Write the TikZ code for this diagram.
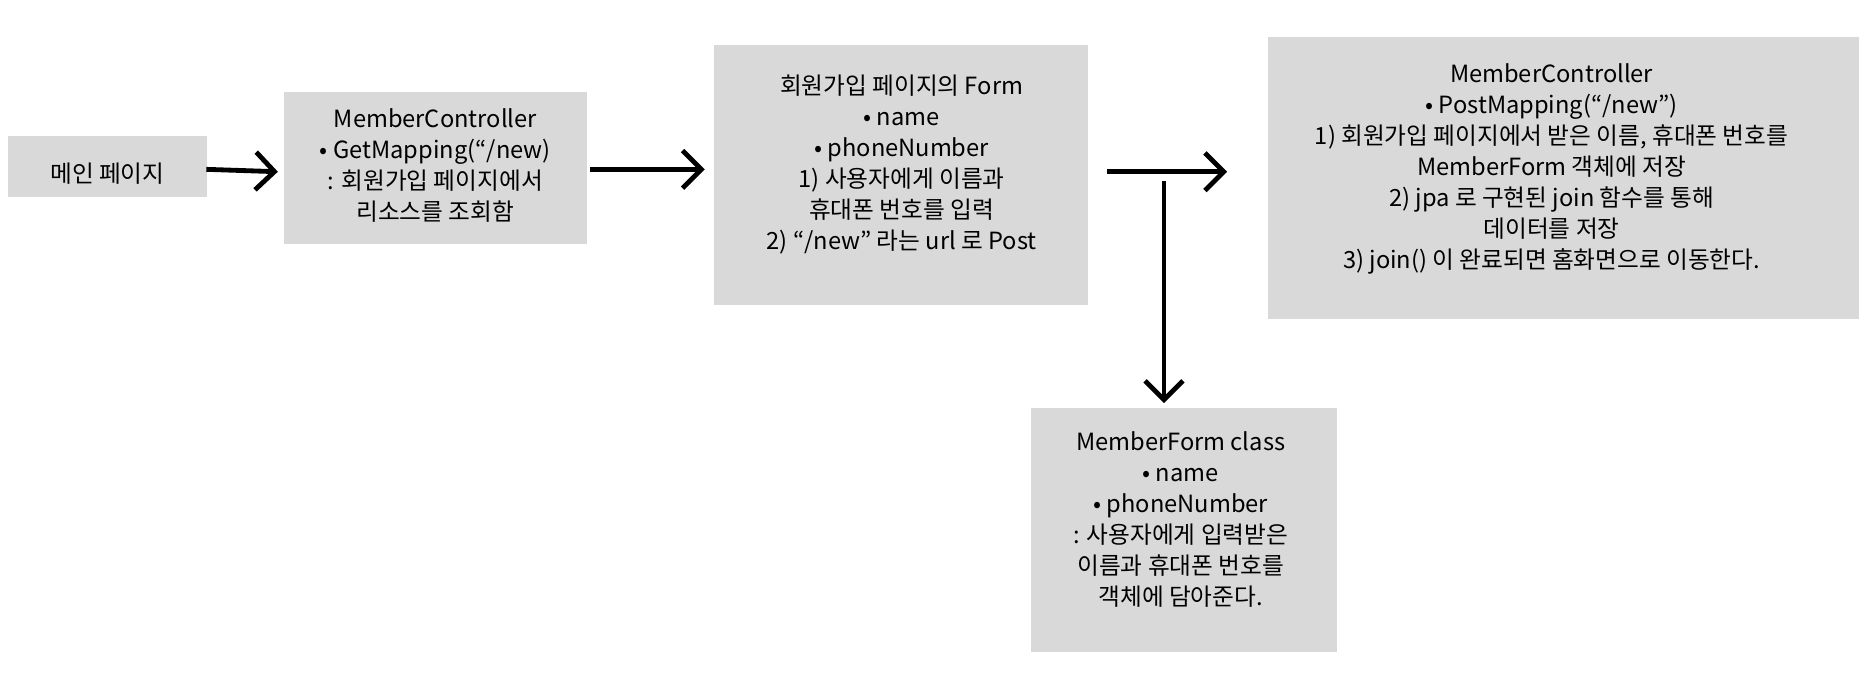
\documentclass[tikz,border=0pt]{standalone}
\usepackage{fontspec}
\setmainfont{Noto Sans CJK KR}
\usetikzlibrary{arrows.meta}
\begin{document}
\begin{tikzpicture}[x=0.02cm,y=-0.02cm,
  box/.style={fill=black!15,draw=none,anchor=north west,inner sep=0},
  txt/.style={align=center,font=\fontsize{11.3}{14.8}\selectfont},
  arr/.style={line width=2.3pt,-{Straight Barb[length=9pt,width=18pt,line width=2.3pt]}}]
\useasboundingbox (0,0) rectangle (1568,578.5);
\node[box,minimum width=167*0.02cm,minimum height=51*0.02cm] (b1) at (6,114) {};
\node[box,minimum width=254*0.02cm,minimum height=127*0.02cm] (b2) at (238,77) {};
\node[box,minimum width=314*0.02cm,minimum height=218*0.02cm] (b3) at (598,37) {};
\node[box,minimum width=495*0.02cm,minimum height=236*0.02cm] (b4) at (1063,31) {};
\node[box,minimum width=257*0.02cm,minimum height=204*0.02cm] (b5) at (864,342) {};
\node[txt] (t1) at (90,146) {메인 페이지};
\node[txt] (t2) at (365,139) {MemberController\\ • GetMapping(“/new)\\: 회원가입 페이지에서\\리소스를 조회함};
\node[txt] (t3) at (756,138) {회원가입 페이지의 Form\\ • name\\ • phoneNumber\\1) 사용자에게 이름과\\휴대폰 번호를 입력\\2) “/new” 라는 url 로 Post};
\node[txt] (t4) at (1301,142) {MemberController\\ • PostMapping(“/new”)\\1) 회원가입 페이지에서 받은 이름, 휴대폰 번호를\\MemberForm 객체에 저장\\2) jpa 로 구현된 join 함수를 통해\\데이터를 저장\\3) join() 이 완료되면 홈화면으로 이동한다.};
\node[txt] (t5) at (990,436) {MemberForm class\\ • name\\ • phoneNumber\\: 사용자에게 입력받은\\이름과 휴대폰 번호를\\객체에 담아준다.};
\coordinate (a1) at (173,142); \coordinate (a2) at (233,144);
\coordinate (c1) at (495,142); \coordinate (c2) at (591,142);
\coordinate (d1) at (928,144); \coordinate (d2) at (1029,144);
\coordinate (e1) at (976,152); \coordinate (e2) at (976,338);
\draw[arr] (a1) -- (a2);
\draw[arr] (c1) -- (c2);
\draw[arr] (d1) -- (d2);
\draw[arr] (e1) -- (e2);
\end{tikzpicture}
\end{document}
